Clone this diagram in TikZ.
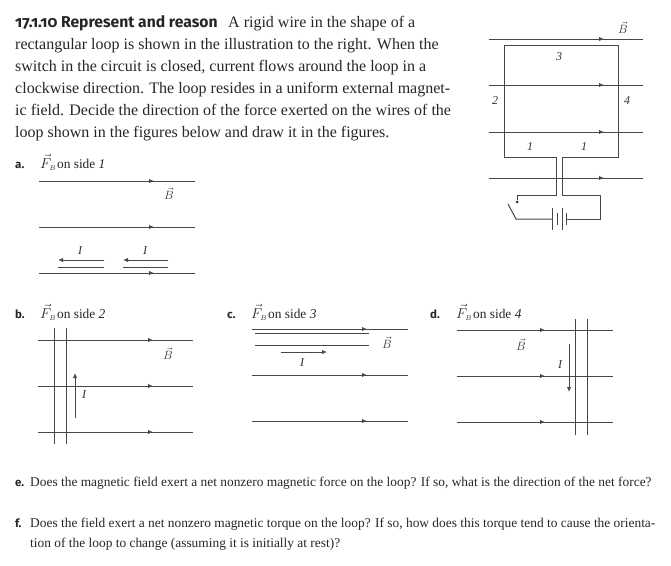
\documentclass[tikz,border=0pt]{standalone}
\usepackage{fontspec}
\usetikzlibrary{arrows.meta}
\setmainfont{Liberation Serif}
\newfontfamily\headfont[Numbers=OldStyle]{Fira Sans}
\newcommand{\forceon}[1]{$\vec{F}_{\scriptscriptstyle B}$\hspace{-2.5pt} on side \textit{#1}}
\begin{document}
\begin{tikzpicture}[x=1pt,y=-1pt,
	wire/.style={draw=black!72, line width=1pt},
	flow/.style={wire, -{Latex[length=5pt,width=4.5pt]}},
	txt/.style={anchor=base west, inner sep=0pt, text=black!85, font=\fontsize{16}{18}\selectfont},
	small/.style={txt, font=\fontsize{13.4}{15}\selectfont},
	tag/.style={inner sep=0pt, text=black!80, font=\fontsize{12}{13}\selectfont\itshape},
	head/.style={anchor=base west, inner sep=0pt, text=black!85, font=\headfont\bfseries\fontsize{11.5}{13}\selectfont}]

	\useasboundingbox (0,0) rectangle (671,565);

	\draw (15,27) node[head, font=\headfont\bfseries\fontsize{15.7}{18}\selectfont] (title) {17.1.10 Represent and reason};
	\draw (228,27) node[txt] (line1) {A rigid wire in the shape of a};
	\draw (15,49) node[txt] (line2) {rectangular loop is shown in the illustration to the right. When the};
	\draw (15,71) node[txt] (line3) {switch in the circuit is closed, current flows around the loop in a};
	\draw (15,93) node[txt] (line4) {clockwise direction. The loop resides in a uniform external magnet-};
	\draw (15,115) node[txt] (line5) {ic field. Decide the direction of the force exerted on the wires of the};
	\draw (15,137) node[txt] (line6) {loop shown in the figures below and draw it in the figures.};

	\foreach \y in {39,85,132,178} {
		\draw[wire] (489,\y) -- (643,\y);
		\draw[flow] (489,\y) -- (604,\y);
	}
	\draw[wire] (556,157) -- (504,157) -- (504,45) -- (618,45) -- (618,157) -- (562,157);
	\draw[wire] (556,157) -- (556,195) -- (517,195) -- (517,200);
	\draw[wire] (562,157) -- (562,195) -- (600,195) -- (600,219) -- (566,219);
	\draw[wire] (508,204) -- (516,219) -- (552,219);
	\fill[black!80] (517,202) circle (1.5);
	\draw[wire] (552,208) -- (552,230);
	\draw[wire] (557,213) -- (557,225);
	\draw[wire] (562,208) -- (562,230);
	\draw[wire] (566,213) -- (566,225);
	\draw (623,28) node[tag] (fieldmain) {$\vec{B}$};
	\draw (559,57) node[tag] (side3) {3};
	\draw (495,101) node[tag] (side2) {2};
	\draw (627,101) node[tag] (side4) {4};
	\draw (530,147) node[tag] (sidea) {1};
	\draw (584,147) node[tag] (sideb) {1};

	\draw (15,168) node[head] (laba) {a.};
	\draw (40,168) node[small] (heada) {\forceon{1}};
	\foreach \y in {181,227,273} {
		\draw[wire] (39,\y) -- (195,\y);
		\draw[flow] (39,\y) -- (154,\y);
	}
	\draw[flow] (104,260) -- (58,260);
	\draw[flow] (168,260) -- (123,260);
	\draw[wire] (58,267) -- (104,267);
	\draw[wire] (123,267) -- (168,267);
	\draw (169,194) node[tag] (fielda) {$\vec{B}$};
	\draw (80,251) node[tag] (cura) {I};
	\draw (145,251) node[tag] (curb) {I};

	\draw (15,318) node[head] (labb) {b.};
	\draw (40,318) node[small] (headb) {\forceon{2}};
	\foreach \y in {340,386,432} {
		\draw[wire] (38,\y) -- (193,\y);
		\draw[flow] (38,\y) -- (153,\y);
	}
	\draw[wire] (54,328) -- (54,444);
	\draw[wire] (66,328) -- (66,444);
	\draw[flow] (75,418) -- (75,373);
	\draw (168,354) node[tag] (fieldb) {$\vec{B}$};
	\draw (84,395) node[tag] (curc) {I};

	\draw (227,318) node[head] (labc) {c.};
	\draw (251,318) node[small] (headc) {\forceon{3}};
	\foreach \y in {329,375,421} {
		\draw[wire] (252,\y) -- (408,\y);
		\draw[flow] (252,\y) -- (367,\y);
	}
	\draw[wire] (255,333) -- (369,333);
	\draw[wire] (255,345) -- (369,345);
	\draw[flow] (281,352) -- (327,352);
	\draw (387,343) node[tag] (fieldc) {$\vec{B}$};
	\draw (302,363) node[tag] (curd) {I};

	\draw (430,318) node[head] (labd) {d.};
	\draw (456,318) node[small] (headd) {\forceon{4}};
	\foreach \y in {330,376,422} {
		\draw[wire] (457,\y) -- (613,\y);
		\draw[flow] (457,\y) -- (545,\y);
	}
	\draw[wire] (575,319) -- (575,435);
	\draw[wire] (587,319) -- (587,435);
	\draw[flow] (569,344) -- (569,392);
	\draw (521,345) node[tag] (fieldd) {$\vec{B}$};
	\draw (560,365) node[tag] (cure) {I};

	\draw (15,486) node[head] (labe) {e.};
	\draw (30,486) node[small] (texte) {Does the magnetic field exert a net nonzero magnetic force on the loop? If so, what is the direction of the net force?};
	\draw (15,527) node[head] (labf) {f.};
	\draw (30,527) node[small] (textf) {Does the field exert a net nonzero magnetic torque on the loop? If so, how does this torque tend to cause the orienta-};
	\draw (30,547) node[small] (textg) {tion of the loop to change (assuming it is initially at rest)?};

\end{tikzpicture}
\end{document}
